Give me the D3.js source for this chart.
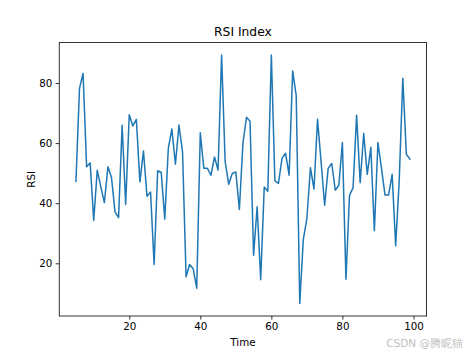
<!DOCTYPE html>
<html>
<head>
<meta charset="utf-8">
<script src="https://cdn.jsdelivr.net/npm/d3@7"></script>
<style>
  html, body { margin: 0; padding: 0; background: #fff; }
  svg { display: block; }
  text { font-family: "DejaVu Sans", sans-serif; fill: #000; }
</style>
</head>
<body>
<svg id="chart" width="474" height="355"></svg>
<script>
const time = [5,6,7,8,9,10,11,12,13,14,15,16,17,18,19,20,21,22,23,24,25,26,27,28,29,30,31,32,33,34,35,36,37,38,39,40,41,42,43,44,45,46,47,48,49,50,51,52,53,54,55,56,57,58,59,60,61,62,63,64,65,66,67,68,69,70,71,72,73,74,75,76,77,78,79,80,81,82,83,84,85,86,87,88,89,90,91,92,93,94,95,96,97,98,99];
const rsi = [47.3,78.2,83.2,52.1,53.4,34.3,51.0,45.4,40.2,52.1,48.6,37.1,35.2,65.9,39.6,69.4,65.7,67.9,47.1,57.4,42.3,43.7,19.6,50.8,50.2,34.7,58.2,64.7,53.0,66.0,57.1,15.5,19.6,18.2,11.7,63.4,51.6,51.6,49.3,55.4,51.0,89.3,53.8,46.3,49.9,50.4,37.9,59.9,68.6,67.3,22.7,38.8,14.5,45.4,44.0,89.3,47.4,46.6,54.9,56.6,49.3,84.0,75.8,6.6,28.0,34.9,51.8,44.7,67.9,53.8,39.3,51.6,53.2,44.3,46.0,60.2,14.7,42.7,45.1,69.3,46.8,63.2,49.6,58.6,30.8,60.2,51.6,42.7,42.7,49.6,25.8,47.7,81.6,56.3,54.7];
const xTicks = [20,40,60,80,100];
const yTicks = [20,40,60,80];
const title = "RSI Index";
const xLabel = "Time";
const yLabel = "RSI";
const watermark = "CSDN @腾昵猫";

(function () {
const W = 474, H = 355;
const mLeft = 59.25, mRight = 426.6, mTop = 42.6, mBottom = 316;
const svg = d3.select("#chart");

const xmin = d3.min(time), xmax = d3.max(time);
const xpad = (xmax - xmin) * 0.05;
const ymin = d3.min(rsi), ymax = d3.max(rsi);
const ypad = (ymax - ymin) * 0.05;

const x = d3.scaleLinear().domain([xmin - xpad, xmax + xpad]).range([mLeft, mRight]);
const y = d3.scaleLinear().domain([ymin - ypad, ymax + ypad]).range([mBottom, mTop]);

const xAxis = svg.append("g").attr("transform", `translate(0,${mBottom})`)
  .call(d3.axisBottom(x).tickValues(xTicks).tickSize(3.6).tickPadding(3.4).tickFormat(d3.format("d")));
const yAxis = svg.append("g").attr("transform", `translate(${mLeft},0)`)
  .call(d3.axisLeft(y).tickValues(yTicks).tickSize(3.6).tickPadding(3.4).tickFormat(d3.format("d")));
[xAxis, yAxis].forEach(g => {
  g.select(".domain").remove();
  g.selectAll(".tick line").attr("stroke", "#000").attr("stroke-width", 0.8);
  g.selectAll(".tick text").attr("font-family", "DejaVu Sans").attr("font-size", 10.3).attr("fill", "#000");
});

const line = d3.line().x((d, i) => x(time[i])).y(d => y(d));
svg.append("path").datum(rsi)
  .attr("d", line)
  .attr("fill", "none")
  .attr("stroke", "#1f77b4")
  .attr("stroke-width", 1.5)
  .attr("stroke-linejoin", "round")
  .attr("stroke-linecap", "square");

svg.append("rect")
  .attr("x", mLeft).attr("y", mTop)
  .attr("width", mRight - mLeft).attr("height", mBottom - mTop)
  .attr("fill", "none").attr("stroke", "#000").attr("stroke-width", 0.8);

svg.append("text").attr("x", (mLeft + mRight) / 2).attr("y", 36)
  .attr("text-anchor", "middle").attr("font-size", 12.3).text(title);
svg.append("text").attr("x", (mLeft + mRight) / 2).attr("y", 346)
  .attr("text-anchor", "middle").attr("font-size", 10.3).text(xLabel);
svg.append("text")
  .attr("transform", `translate(34.5,${(mTop + mBottom) / 2}) rotate(-90)`)
  .attr("text-anchor", "middle").attr("font-size", 10.3).text(yLabel);

svg.append("text").attr("x", 463).attr("y", 347)
  .attr("text-anchor", "end").attr("font-size", 10.5)
  .attr("font-family", "Noto Sans CJK SC, sans-serif")
  .style("fill", "#c0c0c0").text(watermark);
})();
</script>
</body>
</html>
